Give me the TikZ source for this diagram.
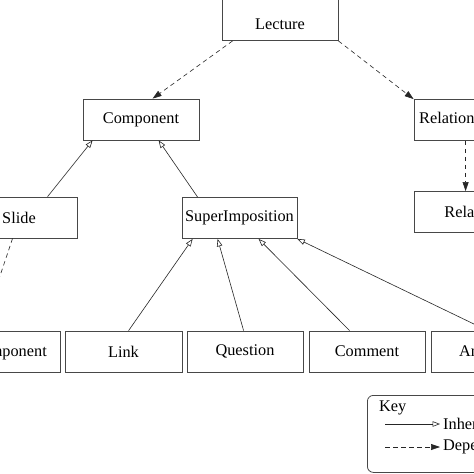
\documentclass[tikz,border=0pt]{standalone}
\usepackage{fontspec}
\setmainfont{Liberation Serif}
\usetikzlibrary{arrows.meta}
\begin{document}
\begin{tikzpicture}[x=1pt,y=-1pt,
  box/.style={draw=black!72, line width=0.8pt, minimum width=116pt, minimum height=41pt, inner sep=0pt, font=\fontsize{16.3}{19}\selectfont, fill=white},
  lbl/.style={inner sep=0pt, font=\fontsize{16.3}{19}\selectfont},
  inh/.style={draw=black!85, line width=0.6pt, -{Triangle[open, length=7.5pt, width=5.5pt]}},
  dep/.style={draw=black!85, line width=0.6pt, dash pattern=on 4.5pt off 3.5pt, -{Triangle[length=9pt, width=6pt]}}]
\useasboundingbox (0,0) rectangle (474,474);
\clip (0,0) rectangle (474,474);
\fill[white] (0,0) rectangle (474,474);
% boxes
\node[box] (lec) at (280,20) {};
\node[lbl] (lectxt) at (280,24.5) {Lecture};
\node[box] (comp) at (141,119.5) {Component};
\node[box] (rel) at (472,120) {};
\node[lbl, anchor=west] (reltxt) at (419,120) {Relationship};
\node[box] (rel2) at (472,212) {Relation};
\node[box] (slide) at (19,217.5) {Slide};
\node[box, minimum width=115pt] (sup) at (239.5,218) {SuperImposition};
\node[box] (bl) at (2,351.5) {};
\node[lbl, anchor=east] (bltxt) at (47,353) {SlideComponent};
\node[box, minimum width=117pt] (link) at (123.5,351.5) {Link};
\node[box] (ques) at (245,351.5) {Question};
\node[box] (comm) at (367,351.5) {Comment};
\node[box] (ann) at (489,351.5) {};
\node[lbl, anchor=west] (anntxt) at (459,351) {Annotation};
% connectors
\draw[dep] ([xshift=11pt]lec.south west) -- ([xshift=70pt]comp.north west);
\draw[dep] (lec.south east) -- (rel.north west);
\draw[dep] ([xshift=52pt]rel.south west) -- ([xshift=52pt]rel2.north west);
\draw[inh] ([xshift=87pt]slide.north west) -- ([xshift=10pt]comp.south west);
\draw[inh] ([xshift=16pt]sup.north west) -- ([xshift=76pt]comp.south west);
\draw[dep] ([xshift=52pt]slide.south west) -- ([xshift=38pt]bl.north west);
\draw[inh] ([xshift=64pt]link.north west) -- ([xshift=11pt]sup.south west);
\draw[inh] ([xshift=57pt]ques.north west) -- ([xshift=36pt]sup.south west);
\draw[inh] ([xshift=41pt]comm.north west) -- ([xshift=77pt]sup.south west);
\draw[inh] ([xshift=57pt]ann.north west) -- (sup.south east);
% key
\node[draw=black!72, line width=0.8pt, rounded corners=6pt, minimum width=193pt, minimum height=77pt, anchor=north west, inner sep=0pt] (key) at (367,395) {};
\node[lbl, anchor=west] (keytxt) at (379,408) {Key};
\coordinate (k1a) at (385,424);
\coordinate (k1b) at (440,424);
\coordinate (k2a) at (385,447);
\coordinate (k2b) at (440,447);
\draw[inh] (k1a) -- (k1b);
\draw[dep] (k2a) -- (k2b);
\node[lbl, anchor=west] (inhtxt) at (443,424) {Inheritance};
\node[lbl, anchor=west] (deptxt) at (443,447) {Dependency};
\end{tikzpicture}
\end{document}
